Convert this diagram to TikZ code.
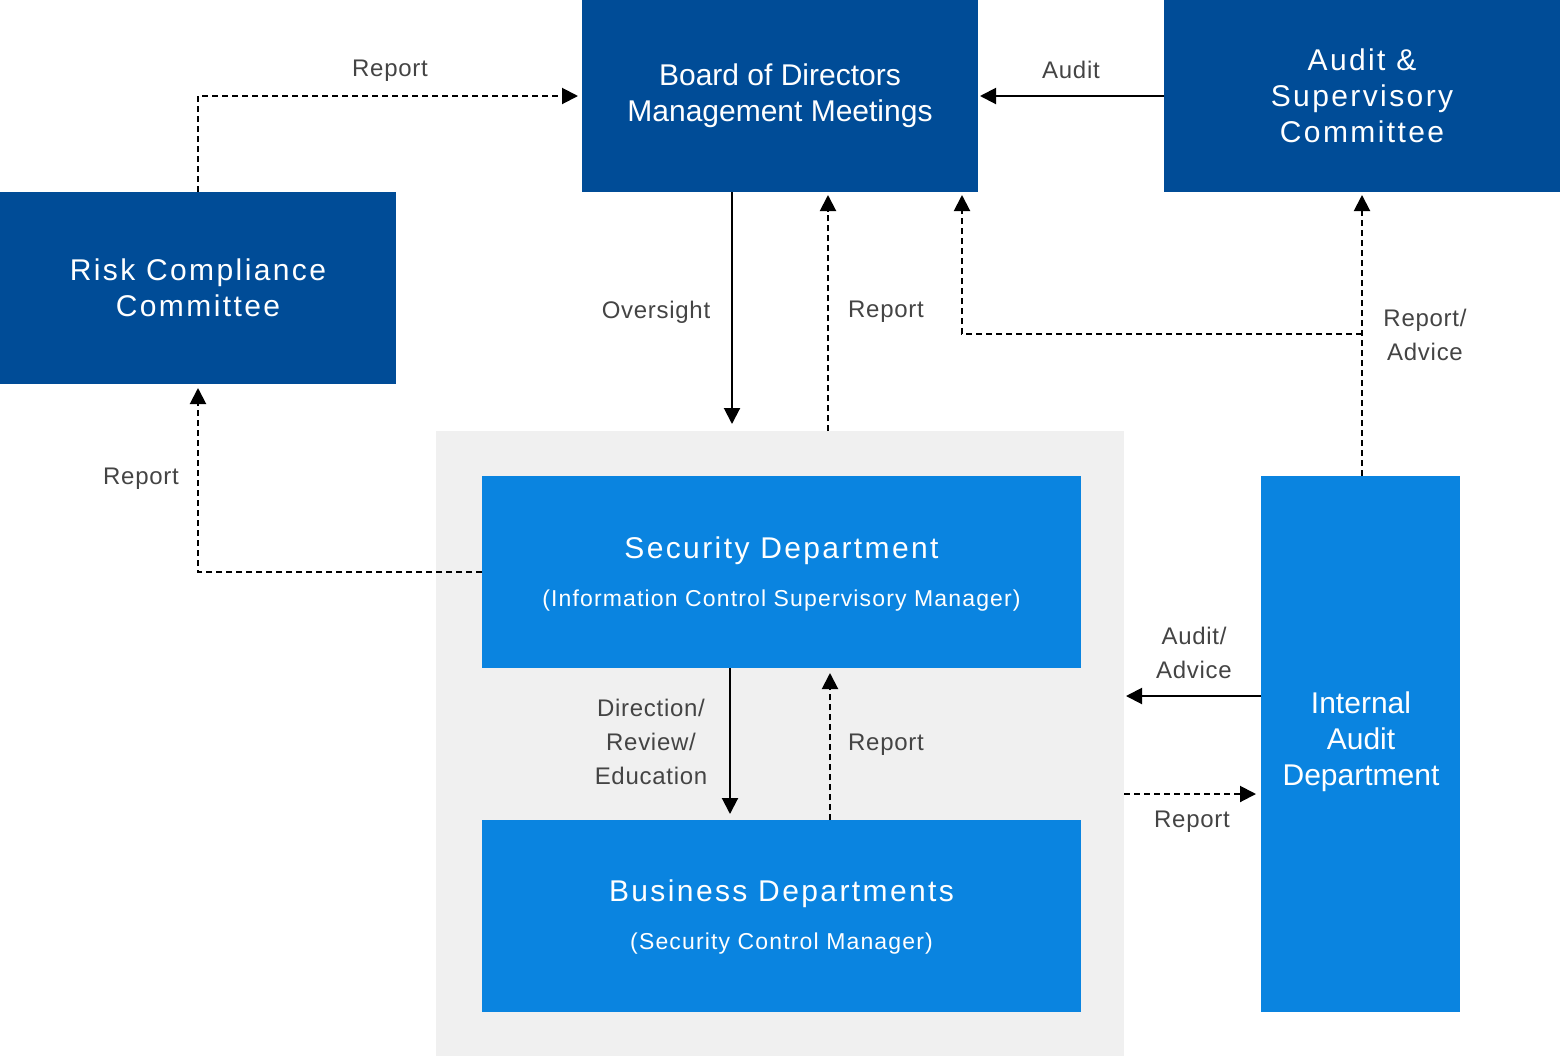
\documentclass[tikz,border=0pt]{standalone}
\usepackage{fontspec}
\setmainfont{Liberation Sans}
\usetikzlibrary{arrows.meta}
\definecolor{dblue}{HTML}{004C97}
\definecolor{lblue}{HTML}{0A84E0}
\definecolor{bgray}{HTML}{F0F0F0}
\definecolor{tgray}{HTML}{444444}
\begin{document}
\begin{tikzpicture}[x=0.5pt,y=-0.5pt,
  dbox/.style={fill=dblue,draw=none,text=white,align=center,font=\fontsize{15}{18}\selectfont\addfontfeature{LetterSpace=8}},
  lbox/.style={fill=lblue,draw=none,text=white,align=center},
  lab/.style={text=tgray,align=center,font=\fontsize{12}{17}\selectfont\addfontfeature{LetterSpace=3}},
  sol/.style={line width=1pt,-{Triangle[length=8pt,width=8pt]}},
  das/.style={line width=1pt,dashed,dash pattern=on 3pt off 2pt,-{Triangle[length=8pt,width=8pt]}}]
\useasboundingbox (0,0) rectangle (1560,1056);
\fill[bgray] (436,431) rectangle (1124,1056);
\node[dbox,font=\fontsize{15}{18}\selectfont,minimum width=198pt,minimum height=96pt] (bod) at (780,96) {Board of Directors\\Management Meetings};
\node[dbox,minimum width=198pt,minimum height=96pt] (asc) at (1362,96) {Audit \&\\Supervisory\\Committee};
\node[dbox,minimum width=198pt,minimum height=96pt] (rcc) at (198,288) {Risk Compliance\\Committee};
\node[lbox,minimum width=299.5pt,minimum height=96pt] (sec) at (781.5,572) {};
\node[text=white,font=\fontsize{15}{18}\selectfont\addfontfeature{LetterSpace=8}] (sect) at (781.5,551) {Security Department};
\node[text=white,font=\fontsize{11.5}{14}\selectfont\addfontfeature{LetterSpace=5}] (secs) at (781.5,601) {(Information Control Supervisory Manager)};
\node[lbox,minimum width=299.5pt,minimum height=96pt] (bus) at (781.5,916) {};
\node[text=white,font=\fontsize{15}{18}\selectfont\addfontfeature{LetterSpace=8}] (bust) at (781.5,894) {Business Departments};
\node[text=white,font=\fontsize{11.5}{14}\selectfont\addfontfeature{LetterSpace=5}] (buss) at (781.5,944) {(Security Control Manager)};
\node[lbox,minimum width=99.5pt,minimum height=268pt,font=\fontsize{15}{18}\selectfont] (iad) at (1360.5,744) {};
\node[text=white,align=center,font=\fontsize{15}{18}\selectfont] (iadt) at (1361,742) {Internal\\Audit\\Department};
\coordinate (c1) at (198,96);
\coordinate (c2) at (1362,334);
\coordinate (c3) at (962,334);
\coordinate (c4) at (198,572);
% connectors
\draw[das] (198,192) -- (c1) -- (578,96);
\draw[sol] (1164,96) -- (980,96);
\draw[sol] (732,192) -- (732,424);
\draw[das] (828,431) -- (828,195);
\draw[das] (1362,476) -- (1362,195);
\draw[das] (c2) -- (c3) -- (962,195);
\draw[das] (482,572) -- (c4) -- (198,388);
\draw[sol] (730,668) -- (730,814);
\draw[das] (830,820) -- (830,673);
\draw[sol] (1261,696) -- (1126,696);
\draw[das] (1124,794) -- (1256,794);
% labels
\node[lab] (l1) at (390,71) {Report};
\node[lab] (l2) at (1071,70) {Audit};
\node[lab] (l3) at (656,312) {Oversight};
\node[lab] (l4) at (886,312) {Report};
\node[lab] (l5) at (1425,335) {Report/\\Advice};
\node[lab] (l6) at (141,479) {Report};
\node[lab] (l7) at (651,742) {Direction/\\Review/\\Education};
\node[lab] (l8) at (886,745) {Report};
\node[lab] (l9) at (1194,653) {Audit/\\Advice};
\node[lab] (l10) at (1192,822) {Report};
\end{tikzpicture}
\end{document}
